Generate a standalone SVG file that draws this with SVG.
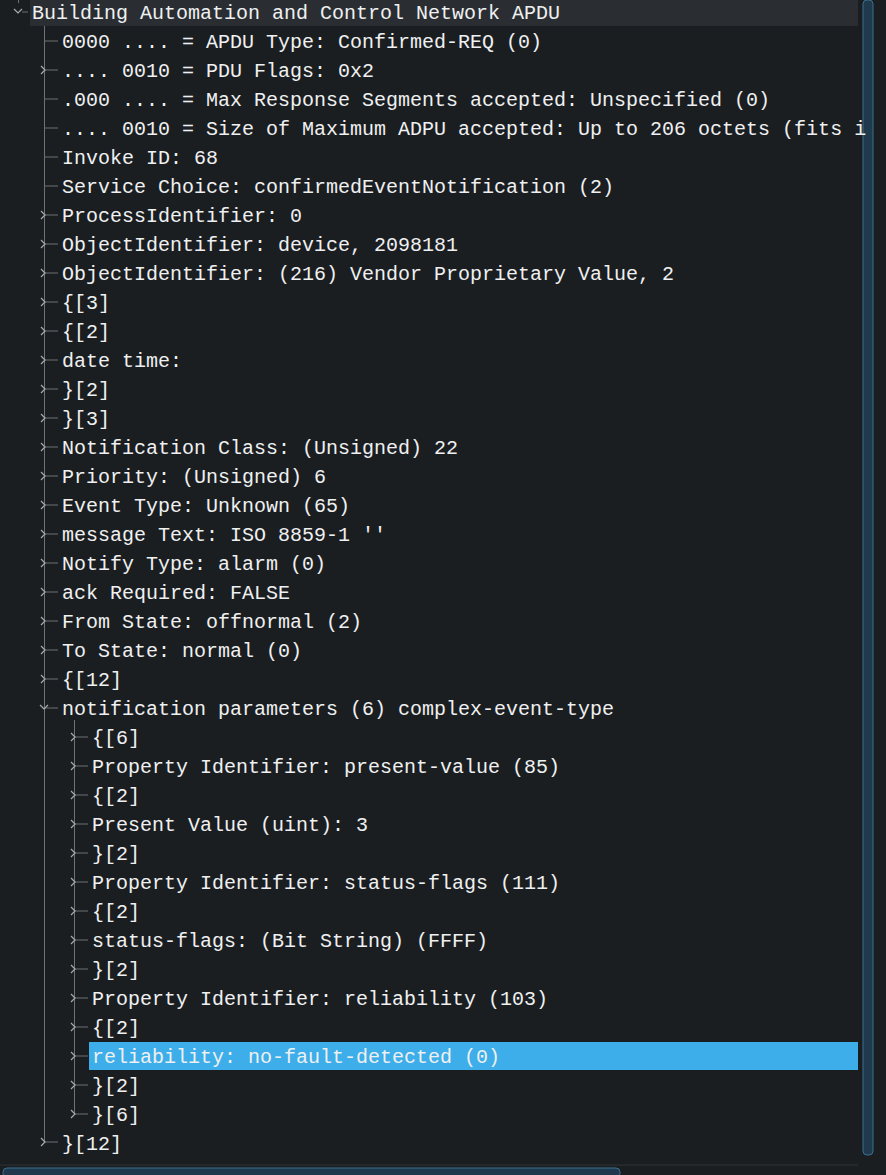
<svg xmlns="http://www.w3.org/2000/svg" width="886" height="1175" viewBox="0 0 886 1175">
<style>
text{font-family:"Liberation Mono","DejaVu Sans Mono",monospace;font-size:20px;fill:#eff0f1}
.l{stroke:#6e7175;stroke-width:1;fill:none}
.a{stroke:#a8abae;stroke-width:1.2;fill:none}
</style>
<rect width="886" height="1175" fill="#1b1e21"/>
<rect x="30" y="0" width="828" height="26" fill="#2a2e32"/>
<rect x="89" y="1042" width="769" height="28" fill="#3daee9"/>
<rect x="863" y="0" width="10" height="1155" rx="4" fill="#1f3a4d" stroke="#3a6f8f"/>
<rect x="3" y="1168" width="617" height="10" rx="4" fill="#1f3a4d" stroke="#3a6f8f"/>
<line x1="0" y1="1165" x2="858" y2="1165" stroke="#2f3337"/>
<g id="connectors">
<path class="l" d="M44.5 26V1142M74.5 720V1113"/>
<path class="l" d="M18.5 0V3M22 12H28"/>
<path class="a" d="M14 9l4 4 4-4"/>
</g>
<g id="tree"></g>
<g id="n0"><text x="32" y="19">Building Automation and Control Network APDU</text></g>
<g id="rows" font-size="20">
<text x="62" y="48">0000 .... = APDU Type: Confirmed-REQ (0)</text>
<text x="62" y="77">.... 0010 = PDU Flags: 0x2</text>
<text x="62" y="106">.000 .... = Max Response Segments accepted: Unspecified (0)</text>
<text x="62" y="135">.... 0010 = Size of Maximum ADPU accepted: Up to 206 octets (fits i</text>
<text x="62" y="164">Invoke ID: 68</text>
<text x="62" y="193">Service Choice: confirmedEventNotification (2)</text>
<text x="62" y="222">ProcessIdentifier: 0</text>
<text x="62" y="251">ObjectIdentifier: device, 2098181</text>
<text x="62" y="280">ObjectIdentifier: (216) Vendor Proprietary Value, 2</text>
<text x="62" y="309">{[3]</text>
<text x="62" y="338">{[2]</text>
<text x="62" y="367">date time:</text>
<text x="62" y="396">}[2]</text>
<text x="62" y="425">}[3]</text>
<text x="62" y="454">Notification Class: (Unsigned) 22</text>
<text x="62" y="483">Priority: (Unsigned) 6</text>
<text x="62" y="512">Event Type: Unknown (65)</text>
<text x="62" y="541">message Text: ISO 8859-1 ''</text>
<text x="62" y="570">Notify Type: alarm (0)</text>
<text x="62" y="599">ack Required: FALSE</text>
<text x="62" y="628">From State: offnormal (2)</text>
<text x="62" y="657">To State: normal (0)</text>
<text x="62" y="686">{[12]</text>
<text x="62" y="715">notification parameters (6) complex-event-type</text>
<text x="92" y="744">{[6]</text>
<text x="92" y="773">Property Identifier: present-value (85)</text>
<text x="92" y="802">{[2]</text>
<text x="92" y="831">Present Value (uint): 3</text>
<text x="92" y="860">}[2]</text>
<text x="92" y="889">Property Identifier: status-flags (111)</text>
<text x="92" y="918">{[2]</text>
<text x="92" y="947">status-flags: (Bit String) (FFFF)</text>
<text x="92" y="976">}[2]</text>
<text x="92" y="1005">Property Identifier: reliability (103)</text>
<text x="92" y="1034">{[2]</text>
<text x="92" y="1063">reliability:  no-fault-detected (0)</text>
<text x="92" y="1092">}[2]</text>
<text x="92" y="1121">}[6]</text>
<text x="62" y="1150">}[12]</text>
</g>
<g id="branches">
<path class="l" d="M44 41H58M44 70H58M44 99H58M44 128H58M44 157H58M44 186H58M44 215H58M44 244H58M44 273H58M44 302H58M44 331H58M44 360H58M44 389H58M44 418H58M44 447H58M44 476H58M44 505H58M44 534H58M44 563H58M44 592H58M44 621H58M44 650H58M44 679H58M44 708H58M44 1142H58"/>
<path class="l" d="M74 737H88M74 766H88M74 795H88M74 824H88M74 853H88M74 882H88M74 911H88M74 940H88M74 969H88M74 998H88M74 1027H88M74 1056H88M74 1085H88M74 1114H88"/>
<path class="a" d="M41 66l4 4-4 4M41 211l4 4-4 4M41 240l4 4-4 4M41 269l4 4-4 4M41 298l4 4-4 4M41 327l4 4-4 4M41 356l4 4-4 4M41 385l4 4-4 4M41 414l4 4-4 4M41 443l4 4-4 4M41 472l4 4-4 4M41 501l4 4-4 4M41 530l4 4-4 4M41 559l4 4-4 4M41 588l4 4-4 4M41 617l4 4-4 4M41 646l4 4-4 4M41 675l4 4-4 4M41 1138l4 4-4 4M40 705l4 4 4-4"/>
<path class="a" d="M71 733l4 4-4 4M71 762l4 4-4 4M71 791l4 4-4 4M71 820l4 4-4 4M71 849l4 4-4 4M71 878l4 4-4 4M71 907l4 4-4 4M71 936l4 4-4 4M71 965l4 4-4 4M71 994l4 4-4 4M71 1023l4 4-4 4M71 1052l4 4-4 4M71 1081l4 4-4 4M71 1110l4 4-4 4"/>
</g>
</svg>
